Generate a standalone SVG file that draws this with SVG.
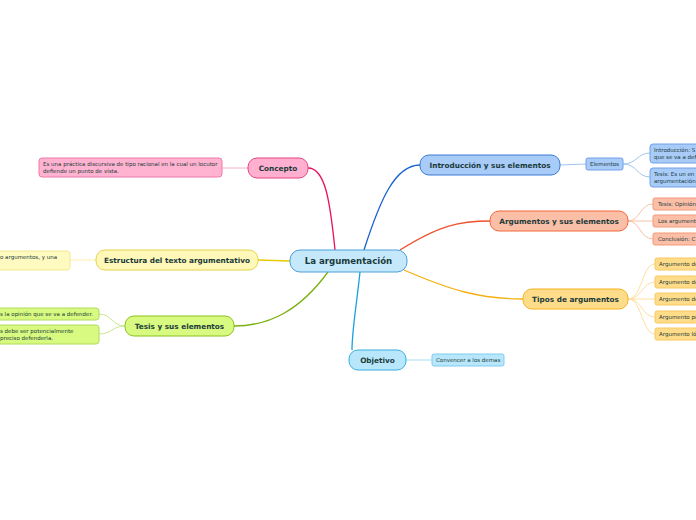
<svg xmlns="http://www.w3.org/2000/svg" width="696" height="520" viewBox="0 0 696 520">
<style>
text{font-family:"DejaVu Sans","Liberation Sans",sans-serif;fill:#1a3a3a}
.m{font-size:7.3px;font-weight:bold;text-anchor:middle}
.l{font-size:5.5px}
.c{fill:none;stroke-width:1.3}
.t{fill:none;stroke-width:1}
</style>
<rect width="696" height="520" fill="#fff"/>
<g id="connectors">
<path class="c" stroke="#e8105f" d="M335 250 C330 200 325 168 308 168"/>
<path class="c" stroke="#1560d0" d="M364 250 C380 200 395 165 420 165"/>
<path class="c" stroke="#f0502a" d="M400 250 C440 225 460 221 490 221"/>
<path class="c" stroke="#f5b010" d="M404 270 C450 290 480 299 523 299"/>
<path class="c" stroke="#18a0e0" d="M360 272 C356 310 352 330 352 350"/>
<path class="c" stroke="#7ab010" d="M328 272 C300 310 270 326 234 326"/>
<path class="c" stroke="#e8c800" d="M258 260 L290 261"/>
<path class="t" stroke="#f8b0cc" d="M222 168 L248 168"/>
<path class="t" stroke="#fff0a8" d="M70 260 L96 260"/>
<path class="t" stroke="#c8e890" d="M99 314 C112 314 112 326 125 326 M99 334 C112 334 112 326 125 326"/>
<path class="t" stroke="#a8dcf5" d="M406 360 L432 360"/>
<path class="t" stroke="#a0c4f0" d="M560 165 L586 164 M623 164 C637 164 637 153 650 153 M623 164 C637 164 637 177 650 177"/>
<path class="t" stroke="#f8c0a8" d="M628 221 C640 221 640 204 653 204 M628 221 L653 221 M628 221 C640 221 640 239 653 239"/>
<path class="t" stroke="#fde0a0" d="M628 299 C642 299 642 264 655 264 M628 299 C642 299 642 282 655 282 M628 299 L655 299 M628 299 C642 299 642 317 655 317 M628 299 C642 299 642 334 655 334"/>
</g>
<g id="center"><rect x="290" y="250" width="117" height="22" rx="10" fill="#c5e9fb" stroke="#4a9fd8"/><text class="m" x="348.500" y="264" style="font-size:8.6px">La argumentación</text></g>
<g id="concepto"><rect x="248" y="158" width="60" height="20" rx="9" fill="#ffb0d0" stroke="#e8457f"/><text class="m" x="278" y="171">Concepto</text></g>
<g id="concepto-leaf"><rect x="39" y="158" width="183" height="19" rx="3" fill="#ffb3d1" stroke="#f07aa8"/><text class="l" x="43" y="166">Es una práctica discursiva de tipo racional en la cual un locutor</text><text class="l" x="43" y="173">defiende un punto de vista.</text></g>
<g id="estructura"><rect x="96" y="250" width="162" height="20" rx="9" fill="#fff8b8" stroke="#e6d24a"/><text class="m" x="177" y="263">Estructura del texto argumentativo</text></g>
<g id="estructura-leaf"><rect x="-10" y="251" width="80" height="19" rx="3" fill="#fffac0" stroke="#f5e890"/><text class="l" x="0" y="259">o argumentos, y una</text></g>
<g id="tesis"><rect x="125" y="316" width="109" height="20" rx="9" fill="#d8fa80" stroke="#8ac21a"/><text class="m" x="179.500" y="329">Tesis y sus elementos</text></g>
<g id="tesis-leaf1"><rect x="-10" y="308" width="109" height="12" rx="3" fill="#d8fa80" stroke="#b0dc60"/><text class="l" x="0" y="316">s la opinión que se va a defender.</text></g>
<g id="tesis-leaf2"><rect x="-10" y="325" width="109" height="19" rx="3" fill="#d8fa80" stroke="#b0dc60"/><text class="l" x="0" y="333">s debe ser potencialmente</text><text class="l" x="0" y="340">preciso defenderla.</text></g>
<g id="objetivo"><rect x="349" y="350" width="57" height="20" rx="9" fill="#b8e6fb" stroke="#3aaee0"/><text class="m" x="377.500" y="363">Objetivo</text></g>
<g id="objetivo-leaf"><rect x="432" y="354" width="72" height="12" rx="2" fill="#b8e6fb" stroke="#80ccf0"/><text class="l" x="436" y="362">Convencer a los demas</text></g>
<g id="intro"><rect x="420" y="155" width="140" height="20" rx="9" fill="#a8cbf8" stroke="#3a7bd5"/><text class="m" x="490" y="168">Introducción y sus elementos</text></g>
<g id="elementos"><rect x="586" y="158" width="37" height="12" rx="2" fill="#a8cbf8" stroke="#70a0e8"/><text class="l" x="604.500" y="166" text-anchor="middle">Elementos</text></g>
<g id="intro-leaf1"><rect x="650" y="144" width="60" height="19" rx="3" fill="#a8cbf8" stroke="#70a0e8"/><text class="l" x="654" y="152">Introducción: S</text><text class="l" x="654" y="159">que se va a def</text></g>
<g id="intro-leaf2"><rect x="650" y="168" width="60" height="19" rx="3" fill="#a8cbf8" stroke="#70a0e8"/><text class="l" x="654" y="176">Tesis: Es un en</text><text class="l" x="654" y="183">argumentación</text></g>
<g id="argumentos"><rect x="490" y="211" width="138" height="20" rx="9" fill="#fbbfa8" stroke="#f0683a"/><text class="m" x="559" y="224">Argumentos y sus elementos</text></g>
<g id="arg-leaf1"><rect x="653" y="198" width="60" height="12" rx="2" fill="#fbbfa8" stroke="#f49878"/><text class="l" x="658" y="206">Tesis: Opinión</text></g>
<g id="arg-leaf2"><rect x="653" y="215" width="60" height="12" rx="2" fill="#fbbfa8" stroke="#f49878"/><text class="l" x="658" y="223">Los argument</text></g>
<g id="arg-leaf3"><rect x="653" y="233" width="60" height="12" rx="2" fill="#fbbfa8" stroke="#f49878"/><text class="l" x="658" y="241">Conclusión: C</text></g>
<g id="tipos"><rect x="523" y="289" width="105" height="20" rx="9" fill="#ffdc8a" stroke="#f5b21a"/><text class="m" x="575.500" y="302">Tipos de argumentos</text></g>
<g id="tipos-leaf1"><rect x="655" y="258" width="60" height="12" rx="2" fill="#ffdc8a" stroke="#f8c860"/><text class="l" x="659" y="266">Argumento de</text></g>
<g id="tipos-leaf2"><rect x="655" y="276" width="60" height="12" rx="2" fill="#ffdc8a" stroke="#f8c860"/><text class="l" x="659" y="284">Argumento de</text></g>
<g id="tipos-leaf3"><rect x="655" y="293" width="60" height="12" rx="2" fill="#ffdc8a" stroke="#f8c860"/><text class="l" x="659" y="301">Argumento de</text></g>
<g id="tipos-leaf4"><rect x="655" y="311" width="60" height="12" rx="2" fill="#ffdc8a" stroke="#f8c860"/><text class="l" x="659" y="319">Argumento po</text></g>
<g id="tipos-leaf5"><rect x="655" y="328" width="60" height="12" rx="2" fill="#ffdc8a" stroke="#f8c860"/><text class="l" x="659" y="336">Argumento ló</text></g>
</svg>
